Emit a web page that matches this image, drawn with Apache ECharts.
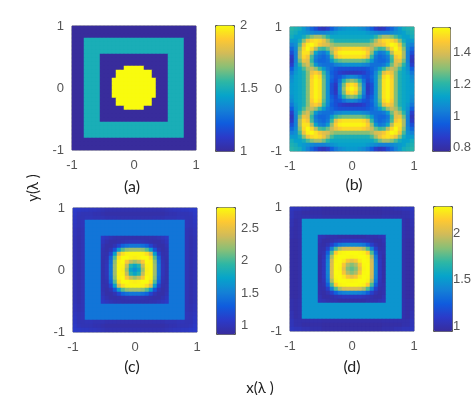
<!DOCTYPE html>
<html>
<head>
<meta charset="utf-8">
<style>
    html, body { margin: 0; padding: 0; background: #fff; }
    #main { width: 474px; height: 395px; }
</style>
<script src="https://cdn.jsdelivr.net/npm/echarts@6/dist/echarts.min.js"></script>
</head>
<body>
<div id="main"></div>
<script>
// 数据: top-left quadrant of each map, top row first, left column first (last row/col = centre)
var quadA = [
    [1,1,1,1,1,1,1,1,1,1,1,1,1,1,1,1],
    [1,1,1,1,1,1,1,1,1,1,1,1,1,1,1,1],
    [1,1,1,1,1,1,1,1,1,1,1,1,1,1,1,1],
    [1,1,1,1.5,1.5,1.5,1.5,1.5,1.5,1.5,1.5,1.5,1.5,1.5,1.5,1.5],
    [1,1,1,1.5,1.5,1.5,1.5,1.5,1.5,1.5,1.5,1.5,1.5,1.5,1.5,1.5],
    [1,1,1,1.5,1.5,1.5,1.5,1.5,1.5,1.5,1.5,1.5,1.5,1.5,1.5,1.5],
    [1,1,1,1.5,1.5,1.5,1.5,1.5,1.5,1.5,1.5,1.5,1.5,1.5,1.5,1.5],
    [1,1,1,1.5,1.5,1.5,1.5,1,1,1,1,1,1,1,1,1],
    [1,1,1,1.5,1.5,1.5,1.5,1,1,1,1,1,1,1,1,1],
    [1,1,1,1.5,1.5,1.5,1.5,1,1,1,1,1,1,1,1,1],
    [1,1,1,1.5,1.5,1.5,1.5,1,1,1,1,1,1,2,2,2],
    [1,1,1,1.5,1.5,1.5,1.5,1,1,1,1,2,2,2,2,2],
    [1,1,1,1.5,1.5,1.5,1.5,1,1,1,1,2,2,2,2,2],
    [1,1,1,1.5,1.5,1.5,1.5,1,1,1,2,2,2,2,2,2],
    [1,1,1,1.5,1.5,1.5,1.5,1,1,1,2,2,2,2,2,2],
    [1,1,1,1.5,1.5,1.5,1.5,1,1,1,2,2,2,2,2,2]
];
var quadB = [
    [1.2,1.18,1.16,1.1,1.04,.98,.92,.86,.84,.88,.96,1.02,1.06,1.08,1.1,1.1],
    [1.18,1.16,1.12,1.1,1.08,1.06,1.04,1.04,1.04,1.06,1.08,1.1,1.12,1.12,1.12,1.12],
    [1.16,1.12,1.12,1.16,1.24,1.3,1.34,1.34,1.28,1.2,1.14,1.14,1.14,1.14,1.14,1.14],
    [1.1,1.1,1.16,1.3,1.44,1.5,1.52,1.5,1.44,1.34,1.24,1.18,1.18,1.18,1.18,1.18],
    [1.04,1.08,1.24,1.44,1.54,1.56,1.52,1.46,1.42,1.4,1.34,1.3,1.3,1.3,1.3,1.3],
    [.98,1.06,1.3,1.5,1.56,1.5,1.36,1.24,1.22,1.28,1.38,1.44,1.48,1.5,1.5,1.5],
    [.92,1.04,1.34,1.52,1.52,1.36,1.14,1.04,1.02,1.1,1.32,1.48,1.54,1.55,1.55,1.55],
    [.86,1.04,1.34,1.5,1.46,1.24,1.04,1.0,.98,1.02,1.22,1.42,1.5,1.52,1.52,1.52],
    [.84,1.04,1.28,1.44,1.42,1.22,1.02,.98,.98,1.0,1.1,1.22,1.26,1.28,1.28,1.28],
    [.88,1.06,1.2,1.34,1.4,1.28,1.1,1.02,1.0,1.0,1.0,1.04,1.06,1.08,1.08,1.08],
    [.96,1.08,1.14,1.24,1.34,1.38,1.32,1.22,1.1,1.02,.98,.94,.92,.92,.92,.92],
    [1.02,1.1,1.14,1.18,1.3,1.44,1.48,1.42,1.22,1.06,.96,.92,.88,.86,.85,.85],
    [1.06,1.12,1.14,1.18,1.3,1.48,1.54,1.5,1.26,1.08,.98,.92,.94,1.0,1.04,1.06],
    [1.08,1.12,1.14,1.18,1.3,1.5,1.55,1.52,1.28,1.08,.96,.9,1.0,1.18,1.28,1.32],
    [1.1,1.12,1.14,1.18,1.3,1.5,1.55,1.52,1.28,1.08,.92,.86,1.04,1.28,1.48,1.52],
    [1.1,1.12,1.14,1.18,1.3,1.5,1.55,1.52,1.28,1.08,.92,.85,1.06,1.32,1.52,1.56]
];
var quadC = [
    [1.08,1.06,1.04,1.04,1.02,1.02,1.0,.98,.96,.96,.96,.96,.96,.96,.96,.96],
    [1.06,1.0,.98,.98,.98,.96,.96,.94,.92,.92,.92,.92,.92,.92,.92,.92],
    [1.04,.98,.98,1.0,1.0,.98,.98,.98,.96,.96,.96,.95,.95,.95,.95,.95],
    [1.04,.98,1.0,1.45,1.45,1.45,1.45,1.45,1.45,1.45,1.45,1.45,1.45,1.45,1.45,1.45],
    [1.02,.98,1.0,1.45,1.45,1.45,1.45,1.45,1.45,1.45,1.45,1.45,1.45,1.45,1.45,1.45],
    [1.0,.96,.98,1.45,1.45,1.45,1.45,1.45,1.45,1.45,1.45,1.45,1.45,1.45,1.45,1.45],
    [1.0,.96,.98,1.45,1.45,1.45,1.45,1.45,1.45,1.45,1.45,1.45,1.45,1.45,1.45,1.45],
    [.98,.94,.98,1.45,1.45,1.45,1.45,1.06,1.02,.98,.96,.95,.94,.94,.94,.94],
    [.98,.94,.98,1.45,1.45,1.45,1.45,1.02,.96,.92,.92,.94,.96,.98,1.0,1.0],
    [.98,.94,.98,1.45,1.45,1.45,1.45,.98,.92,.92,.98,1.14,1.34,1.42,1.46,1.46],
    [.98,.94,.98,1.45,1.45,1.45,1.45,.96,.92,.98,1.24,1.7,2.05,2.2,2.25,2.25],
    [.98,.94,.98,1.45,1.45,1.45,1.45,.95,.94,1.14,1.7,2.4,2.7,2.8,2.82,2.82],
    [.98,.94,.98,1.45,1.45,1.45,1.45,.94,.96,1.34,2.05,2.7,2.84,2.84,2.8,2.78],
    [.98,.94,.98,1.45,1.45,1.45,1.45,.94,.98,1.42,2.2,2.8,2.84,2.6,2.36,2.25],
    [.98,.94,.98,1.45,1.45,1.45,1.45,.94,1.0,1.46,2.25,2.82,2.8,2.36,1.9,1.75],
    [.98,.94,.98,1.45,1.45,1.45,1.45,.94,1.0,1.46,2.25,2.82,2.78,2.25,1.75,1.6]
];
var quadD = [
    [1.06,1.04,1.04,1.02,1.02,1.0,1.0,1.0,.98,.98,.98,.98,.98,.98,.98,.98],
    [1.04,1.0,1.0,.98,.98,.98,.98,.98,.97,.97,.97,.97,.97,.97,.97,.97],
    [1.04,1.0,1.0,1.0,1.0,1.0,1.0,1.0,.99,.99,.99,.99,.99,.99,.99,.99],
    [1.02,.98,1.0,1.48,1.48,1.48,1.48,1.48,1.48,1.48,1.48,1.48,1.48,1.48,1.48,1.48],
    [1.02,.98,1.0,1.48,1.48,1.48,1.48,1.48,1.48,1.48,1.48,1.48,1.48,1.48,1.48,1.48],
    [1.0,.98,1.0,1.48,1.48,1.48,1.48,1.48,1.48,1.48,1.48,1.48,1.48,1.48,1.48,1.48],
    [1.0,.98,1.0,1.48,1.48,1.48,1.48,1.48,1.48,1.48,1.48,1.48,1.48,1.48,1.48,1.48],
    [1.0,.98,1.0,1.48,1.48,1.48,1.48,1.04,1.02,1.0,1.0,1.0,.98,.98,.98,.98],
    [.98,.97,.99,1.48,1.48,1.48,1.48,1.02,.98,.98,1.0,1.02,1.04,1.06,1.06,1.06],
    [.98,.97,.99,1.48,1.48,1.48,1.48,1.0,.98,1.02,1.12,1.26,1.36,1.4,1.42,1.42],
    [.98,.97,.99,1.48,1.48,1.48,1.48,1.0,1.0,1.12,1.4,1.74,1.92,2.0,2.02,2.02],
    [.98,.97,.99,1.48,1.48,1.48,1.48,1.0,1.02,1.26,1.74,2.14,2.26,2.28,2.29,2.29],
    [.98,.97,.99,1.48,1.48,1.48,1.48,.98,1.04,1.36,1.92,2.26,2.29,2.29,2.28,2.27],
    [.98,.97,.99,1.48,1.48,1.48,1.48,.98,1.06,1.4,2.0,2.28,2.29,2.24,2.12,2.06],
    [.98,.97,.99,1.48,1.48,1.48,1.48,.98,1.06,1.42,2.02,2.29,2.28,2.12,1.92,1.84],
    [.98,.97,.99,1.48,1.48,1.48,1.48,.98,1.06,1.42,2.02,2.29,2.27,2.06,1.84,1.78]
];
var captions = ['(a)', '(b)', '(c)', '(d)'];
var axisTicks = [-1, 0, 1];
var barTicksA = [1, 1.5, 2];
var barTicksB = [0.8, 1, 1.2, 1.4];
var barTicksC = [1, 1.5, 2, 2.5];
var barTicksD = [1, 1.5, 2];
var barRangeA = [1, 2];
var barRangeB = [0.78, 1.5625];
var barRangeC = [0.86, 2.84];
var barRangeD = [0.946, 2.29];
var parula = ['#382c9c', '#2b3ac8', '#0f5cdd', '#1481d6', '#06a4ca', '#2eb7a4', '#87bf77', '#d1bb59', '#fec832', '#f9fb0e'];

// 布局, 31 cells at 4px each so the cells fall on whole pixels
var panels = [
    { quad: quadA, ticks: barTicksA, range: barRangeA, cap: [132, 187], plot: [72, 26, 124, 124], bar: [215, 25, 19, 126] },
    { quad: quadB, ticks: barTicksB, range: barRangeB, cap: [354, 185], plot: [290, 27, 124, 124], bar: [432, 27, 18, 124] },
    { quad: quadC, ticks: barTicksC, range: barRangeC, cap: [132, 367], plot: [73, 208, 124, 124], bar: [216, 207, 19, 127] },
    { quad: quadD, ticks: barTicksD, range: barRangeD, cap: [352, 367], plot: [290, 207, 124, 124], bar: [433, 206, 19, 125] }
];

// full map from the quadrant, the pictures are symmetric about both axes
function mirror(quad) {
    var out = [];
    var n = quad.length * 2 - 1;
    for (var y = 0; y < n; y++) {
        var r = y < quad.length ? y : n - 1 - y;
        for (var x = 0; x < n; x++) {
            var c = x < quad.length ? x : n - 1 - x;
            out.push([x, n - 1 - y, quad[r][c]]);
        }
    }
    return out;
}

var cats = [];
for (var i = 0; i < 31; i++) cats.push(i);

var tickFont = { color: '#555', fontSize: 13, fontFamily: 'Liberation Sans' };
var option = { animation: false, grid: [], xAxis: [], yAxis: [], series: [], visualMap: [], graphic: [] };

panels.forEach(function (p, k) {
    var g = option.grid.length;
    option.grid.push({ left: p.plot[0], top: p.plot[1], width: p.plot[2], height: p.plot[3], show: true, borderColor: '#777', borderWidth: 1 });
    option.grid.push({ left: p.bar[0], top: p.bar[1], width: p.bar[2], height: p.bar[3] });

    var catX = option.xAxis.length;
    option.xAxis.push({ type: 'category', gridIndex: g, data: cats, show: false });
    option.xAxis.push({
        type: 'value', gridIndex: g, position: 'bottom', min: -1, max: 1, splitLine: { show: false },
        axisLine: { show: false, onZero: false }, axisTick: { show: false },
        axisLabel: Object.assign({ margin: 9, showMinLabel: true, showMaxLabel: true, customValues: axisTicks }, tickFont)
    });
    option.xAxis.push({ type: 'value', gridIndex: g + 1, show: false, min: 0, max: 1 });

    var catY = option.yAxis.length;
    option.yAxis.push({ type: 'category', gridIndex: g, data: cats, show: false });
    option.yAxis.push({
        type: 'value', gridIndex: g, position: 'left', min: -1, max: 1, splitLine: { show: false },
        axisLine: { show: false, onZero: false }, axisTick: { show: false },
        axisLabel: Object.assign({ margin: 8, showMinLabel: true, showMaxLabel: true, customValues: axisTicks }, tickFont)
    });
    // colorbar 刻度
    option.yAxis.push({
        type: 'value', gridIndex: g + 1, position: 'right', min: p.range[0], max: p.range[1], splitLine: { show: false },
        axisLine: { show: false }, axisTick: { show: false },
        axisLabel: Object.assign({ margin: 6, showMinLabel: true, showMaxLabel: true, customValues: p.ticks }, tickFont)
    });

    option.series.push({
        type: 'heatmap', xAxisIndex: catX, yAxisIndex: catY, data: mirror(p.quad),
        progressive: 0, itemStyle: { borderWidth: 0 }, emphasis: { disabled: true }
    });
    option.visualMap.push({
        type: 'continuous', seriesIndex: k, min: p.range[0], max: p.range[1], left: p.bar[0], top: p.bar[1],
        itemWidth: p.bar[2], itemHeight: p.bar[3], padding: 0, calculable: false, hoverLink: false,
        text: null, borderColor: '#555', borderWidth: 1, inRange: { color: parula }
    });
    option.graphic.push({
        type: 'text', x: p.cap[0], y: p.cap[1],
        style: { text: captions[k], font: '16px Lato', fill: '#222', textAlign: 'center', textVerticalAlign: 'middle' }
    });
});

option.graphic.push({
    type: 'text', x: 33, y: 188, rotation: Math.PI / 2,
    style: { text: 'y(λ )', font: '15px Lato', fill: '#222', textAlign: 'center', textVerticalAlign: 'middle' }
});
option.graphic.push({
    type: 'text', x: 260, y: 388,
    style: { text: 'x(λ )', font: '15px Lato', fill: '#222', textAlign: 'center', textVerticalAlign: 'middle' }
});

var myChart = echarts.init(document.getElementById('main'));
myChart.setOption(option);
</script>
</body>
</html>
